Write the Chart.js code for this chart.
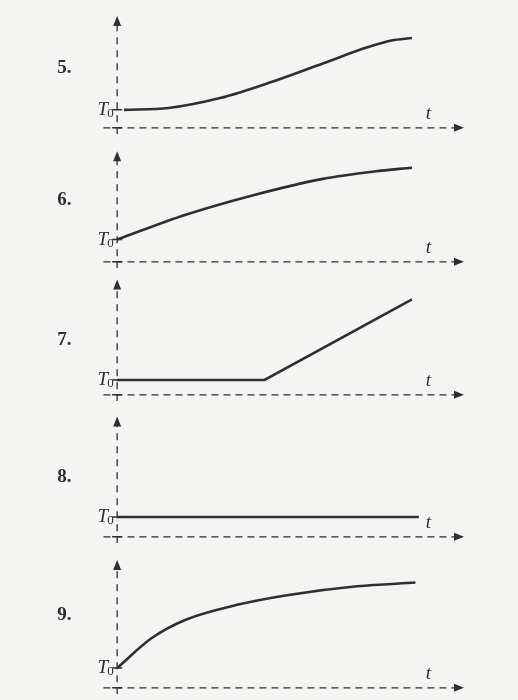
<!DOCTYPE html>
<html>
<head>
<meta charset="utf-8">
<script src="https://cdn.jsdelivr.net/npm/chart.js@4"></script>
<style>
  body { margin:0; background:#f4f4f2; }
  #wrap { position:relative; width:518px; height:700px; overflow:hidden; }
  canvas { position:absolute; left:0; }
</style>
</head>
<body>
<div id="wrap"></div>
<script>
// panel numbers and where each one sits (top of its canvas)
const labels = ['5.', '6.', '7.', '8.', '9.'];
const tops = [-1, 133, 266, 408, 559];
const labelY = [4.8, 5.0, 4.4, 4.8, 5.9];
const axisTop = [8.7, 8.6, 9.0, 9.4, 10.0];
const t0Y = [1.45, 1.8, 1.2, 1.6, 1.6];

// curves, x = time, y = temperature
const curve5 = [[0.2,1.45],[1.5,1.6],[3,2.4],[4.5,3.7],[6,5.2],[7.3,6.5],[8,7.05],[8.6,7.25]];
const curve6 = [[0,1.8],[2,3.8],[4,5.4],[6,6.7],[7.5,7.3],[8.6,7.6]];
const curve7 = [[0,1.2],[4.3,1.2],[8.6,7.7]];
const curve8 = [[0,1.6],[8.8,1.6]];
const curve9 = [[0,1.6],[1,4.0],[2,5.5],[3.5,6.7],[5,7.5],[7,8.2],[8.7,8.5]];
const curves = [curve5, curve6, curve7, curve8, curve9];
const smooth = [0.4, 0.4, 0, 0, 0.4];

const ink = '#2e2e33';

const decor = {
  id: 'decor',
  afterDatasetsDraw(chart, args, opts) {
    const ctx = chart.ctx, x = chart.scales.x, y = chart.scales.y;
    ctx.save();
    ctx.fillStyle = ink; ctx.strokeStyle = ink; ctx.lineWidth = 1.5;
    // arrowheads
    const ax = x.getPixelForValue(0), ay = y.getPixelForValue(opts.top);
    ctx.beginPath(); ctx.moveTo(ax, ay - 4); ctx.lineTo(ax - 4, ay + 6); ctx.lineTo(ax + 4, ay + 6); ctx.fill();
    const bx = x.getPixelForValue(10), by = y.getPixelForValue(0);
    ctx.beginPath(); ctx.moveTo(bx + 4, by); ctx.lineTo(bx - 6, by - 4); ctx.lineTo(bx - 6, by + 4); ctx.fill();
    // cross tick at origin and T0 tick
    ctx.beginPath(); ctx.moveTo(ax - 5, by); ctx.lineTo(ax + 5, by);
    const ty = y.getPixelForValue(opts.t0);
    ctx.moveTo(ax - 5, ty); ctx.lineTo(ax + 5, ty); ctx.stroke();
    // texts
    ctx.font = 'bold 19px "Liberation Serif"';
    ctx.textBaseline = 'middle';
    ctx.fillText(opts.label, x.getPixelForValue(-1.75), y.getPixelForValue(opts.labelY));
    ctx.font = 'italic 19px "Liberation Serif"';
    ctx.textAlign = 'right';
    ctx.fillText('T', ax - 9, ty);
    ctx.font = '13px "Liberation Serif"';
    ctx.textAlign = 'left';
    ctx.fillText('0', ax - 10, ty + 4);
    ctx.font = 'italic 19px "Liberation Serif"';
    ctx.fillText('t', x.getPixelForValue(9.0), y.getPixelForValue(1.1));
    ctx.restore();
  }
};

const wrap = document.getElementById('wrap');
curves.forEach((c, i) => {
  const box = document.createElement('div');
  box.style.cssText = 'position:absolute;left:0;top:' + tops[i] + 'px;width:518px;height:140px';
  const cv = document.createElement('canvas');
  cv.style.top = '0px';
  cv.style.width = '518px'; cv.style.height = '140px';
  box.appendChild(cv);
  wrap.appendChild(box);
  new Chart(cv, {
    type: 'scatter',
    data: {
      datasets: [
        { data: c.map(p => ({x: p[0], y: p[1]})), showLine: true, borderColor: ink, borderWidth: 2.6,
          pointRadius: 0, tension: smooth[i], cubicInterpolationMode: smooth[i] ? 'monotone' : 'default' },
        { data: [{x: 0, y: -0.6}, {x: 0, y: axisTop[i]}], showLine: true, borderColor: ink, borderWidth: 1.3,
          borderDash: [7, 6], pointRadius: 0 },
        { data: [{x: -0.4, y: 0}, {x: 10, y: 0}], showLine: true, borderColor: ink, borderWidth: 1.3,
          borderDash: [7, 5], pointRadius: 0 }
      ]
    },
    options: {
      responsive: false, animation: false,
      layout: { padding: { left: 100, right: 58, top: 5, bottom: 5 } },
      scales: {
        x: { display: false, min: -0.5, max: 10 },
        y: { display: false, min: -0.5, max: 10 }
      },
      plugins: {
        legend: { display: false }, tooltip: { enabled: false },
        decor: { label: labels[i], labelY: labelY[i], top: axisTop[i], t0: t0Y[i] }
      }
    },
    plugins: [decor]
  });
});
</script>
</body>
</html>
